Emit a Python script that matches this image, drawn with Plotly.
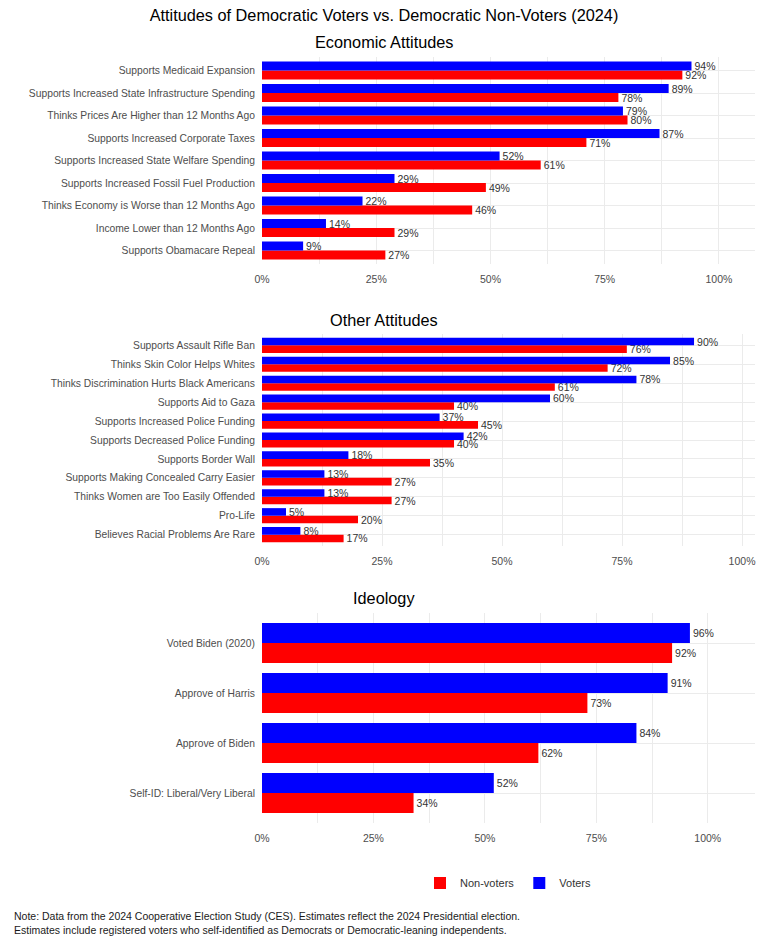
import plotly.graph_objects as go

# --- data (top to bottom as drawn) ---
econ_items = [
    "Supports Medicaid Expansion",
    "Supports Increased State Infrastructure Spending",
    "Thinks Prices Are Higher than 12 Months Ago",
    "Supports Increased Corporate Taxes",
    "Supports Increased State Welfare Spending",
    "Supports Increased Fossil Fuel Production",
    "Thinks Economy is Worse than 12 Months Ago",
    "Income Lower than 12 Months Ago",
    "Supports Obamacare Repeal",
]
econ_voters = [94, 89, 79, 87, 52, 29, 22, 14, 9]
econ_nonvoters = [92, 78, 80, 71, 61, 49, 46, 29, 27]

other_items = [
    "Supports Assault Rifle Ban",
    "Thinks Skin Color Helps Whites",
    "Thinks Discrimination Hurts Black Americans",
    "Supports Aid to Gaza",
    "Supports Increased Police Funding",
    "Supports Decreased Police Funding",
    "Supports Border Wall",
    "Supports Making Concealed Carry Easier",
    "Thinks Women are Too Easily Offended",
    "Pro-Life",
    "Believes Racial Problems Are Rare",
]
other_voters = [90, 85, 78, 60, 37, 42, 18, 13, 13, 5, 8]
other_nonvoters = [76, 72, 61, 40, 45, 40, 35, 27, 27, 20, 17]

ideo_items = [
    "Voted Biden (2020)",
    "Approve of Harris",
    "Approve of Biden",
    "Self-ID: Liberal/Very Liberal",
]
ideo_voters = [96, 91, 84, 52]
ideo_nonvoters = [92, 73, 62, 34]

panel_titles = ["Economic Attitudes", "Other Attitudes", "Ideology"]
x_ticks = [0, 25, 50, 75, 100]
x_ticktext = ["0%", "25%", "50%", "75%", "100%"]

RED = "#FF0000"
BLUE = "#0000FF"
GRID = "#EBEBEB"
FONT = "Liberation Sans, Arial, sans-serif"

# --- layout geometry (pixels) ---
W, H = 768, 940
ml, mr, mt, mb = 262, 13, 57, 117
pw, ph = W - ml - mr, H - mt - mb


def px_y(y):
    """convert pixel row (from top of page) into paper y"""
    return 1 - (y - mt) / ph


def px_x(x):
    return (x - ml) / pw


panels = [
    (econ_items, econ_voters, econ_nonvoters, (57, 264), 107.9, 42),
    (other_items, other_voters, other_nonvoters, (334, 546), 102.7, 320),
    (ideo_items, ideo_voters, ideo_nonvoters, (613, 823), 110.6, 598),
]

fig = go.Figure()
annotations = []
layout_axes = {}

for i, (items, voters, nonvoters, (top, bot), xmax, title_y) in enumerate(panels, start=1):
    sfx = "" if i == 1 else str(i)
    xa, ya = "x" + sfx, "y" + sfx

    fig.add_trace(go.Bar(
        y=items, x=nonvoters, orientation="h", name="Non-voters",
        marker=dict(color=RED, line=dict(width=0)),
        text=[f"{v}%" for v in nonvoters], textposition="outside",
        textfont=dict(size=10.5, color="#333333", family=FONT),
        constraintext="none", cliponaxis=False,
        xaxis=xa, yaxis=ya, legendgroup="nv", showlegend=(i == 1),
    ))
    fig.add_trace(go.Bar(
        y=items, x=voters, orientation="h", name="Voters",
        marker=dict(color=BLUE, line=dict(width=0)),
        text=[f"{v}%" for v in voters], textposition="outside",
        textfont=dict(size=10.5, color="#333333", family=FONT),
        constraintext="none", cliponaxis=False,
        xaxis=xa, yaxis=ya, legendgroup="v", showlegend=(i == 1),
    ))

    layout_axes["xaxis" + sfx] = dict(
        domain=[0, 1], anchor=ya, range=[0, xmax],
        tickmode="array", tickvals=x_ticks, ticktext=x_ticktext,
        showgrid=True, gridcolor=GRID, gridwidth=1,
        minor=dict(dtick=12.5, tick0=0, showgrid=True, gridcolor=GRID, gridwidth=1),
        zeroline=False, showline=False,
        ticks="outside", ticklen=5, tickcolor="rgba(0,0,0,0)",
        tickfont=dict(size=10.5, color="#4D4D4D", family=FONT),
    )
    n = len(items)
    layout_axes["yaxis" + sfx] = dict(
        domain=[px_y(bot), px_y(top)], anchor=xa,
        categoryorder="array", categoryarray=items[::-1],
        range=[-0.6, n - 0.4],
        showgrid=True, gridcolor=GRID, gridwidth=1,
        zeroline=False, showline=False,
        ticks="outside", ticklen=4, tickcolor="rgba(0,0,0,0)",
        tickfont=dict(size=10.3, color="#4D4D4D", family=FONT),
    )

    annotations.append(dict(
        text=panel_titles[i - 1], xref="paper", yref="paper",
        x=px_x(W / 2), y=px_y(title_y), xanchor="center", yanchor="middle",
        showarrow=False, font=dict(size=16.3, color="#000000", family=FONT),
    ))

annotations.append(dict(
    text=("Note: Data from the 2024 Cooperative Election Study (CES). Estimates reflect the 2024 Presidential election.<br>"
          "Estimates include registered voters who self-identified as Democrats or Democratic-leaning independents."),
    xref="paper", yref="paper", x=px_x(12), y=px_y(923),
    xanchor="left", yanchor="middle", align="left", showarrow=False,
    font=dict(size=10.5, color="#1A1A1A", family=FONT),
))

fig.update_layout(
    width=W, height=H,
    margin=dict(l=ml, r=mr, t=mt, b=mb, autoexpand=False),
    paper_bgcolor="white", plot_bgcolor="white",
    barmode="group", bargap=0.2, bargroupgap=0,
    title=dict(
        text="Attitudes of Democratic Voters vs. Democratic Non-Voters (2024)",
        x=0.5, xref="container", xanchor="center",
        y=1 - 15 / H, yref="container", yanchor="middle",
        font=dict(size=16.3, color="#000000", family=FONT),
    ),
    legend=dict(
        orientation="h", x=px_x(508), xanchor="center", y=px_y(883), yanchor="middle",
        font=dict(size=11, color="#333333", family=FONT),
        traceorder="normal", itemwidth=30,
    ),
    annotations=annotations,
    font=dict(family=FONT),
    **layout_axes,
)

# page body has an 8px default margin; drop it so the figure sits at the window corner
fig.write_html("out.html", config={"displayModeBar": False},
               post_script="document.body.style.margin = '0';")
